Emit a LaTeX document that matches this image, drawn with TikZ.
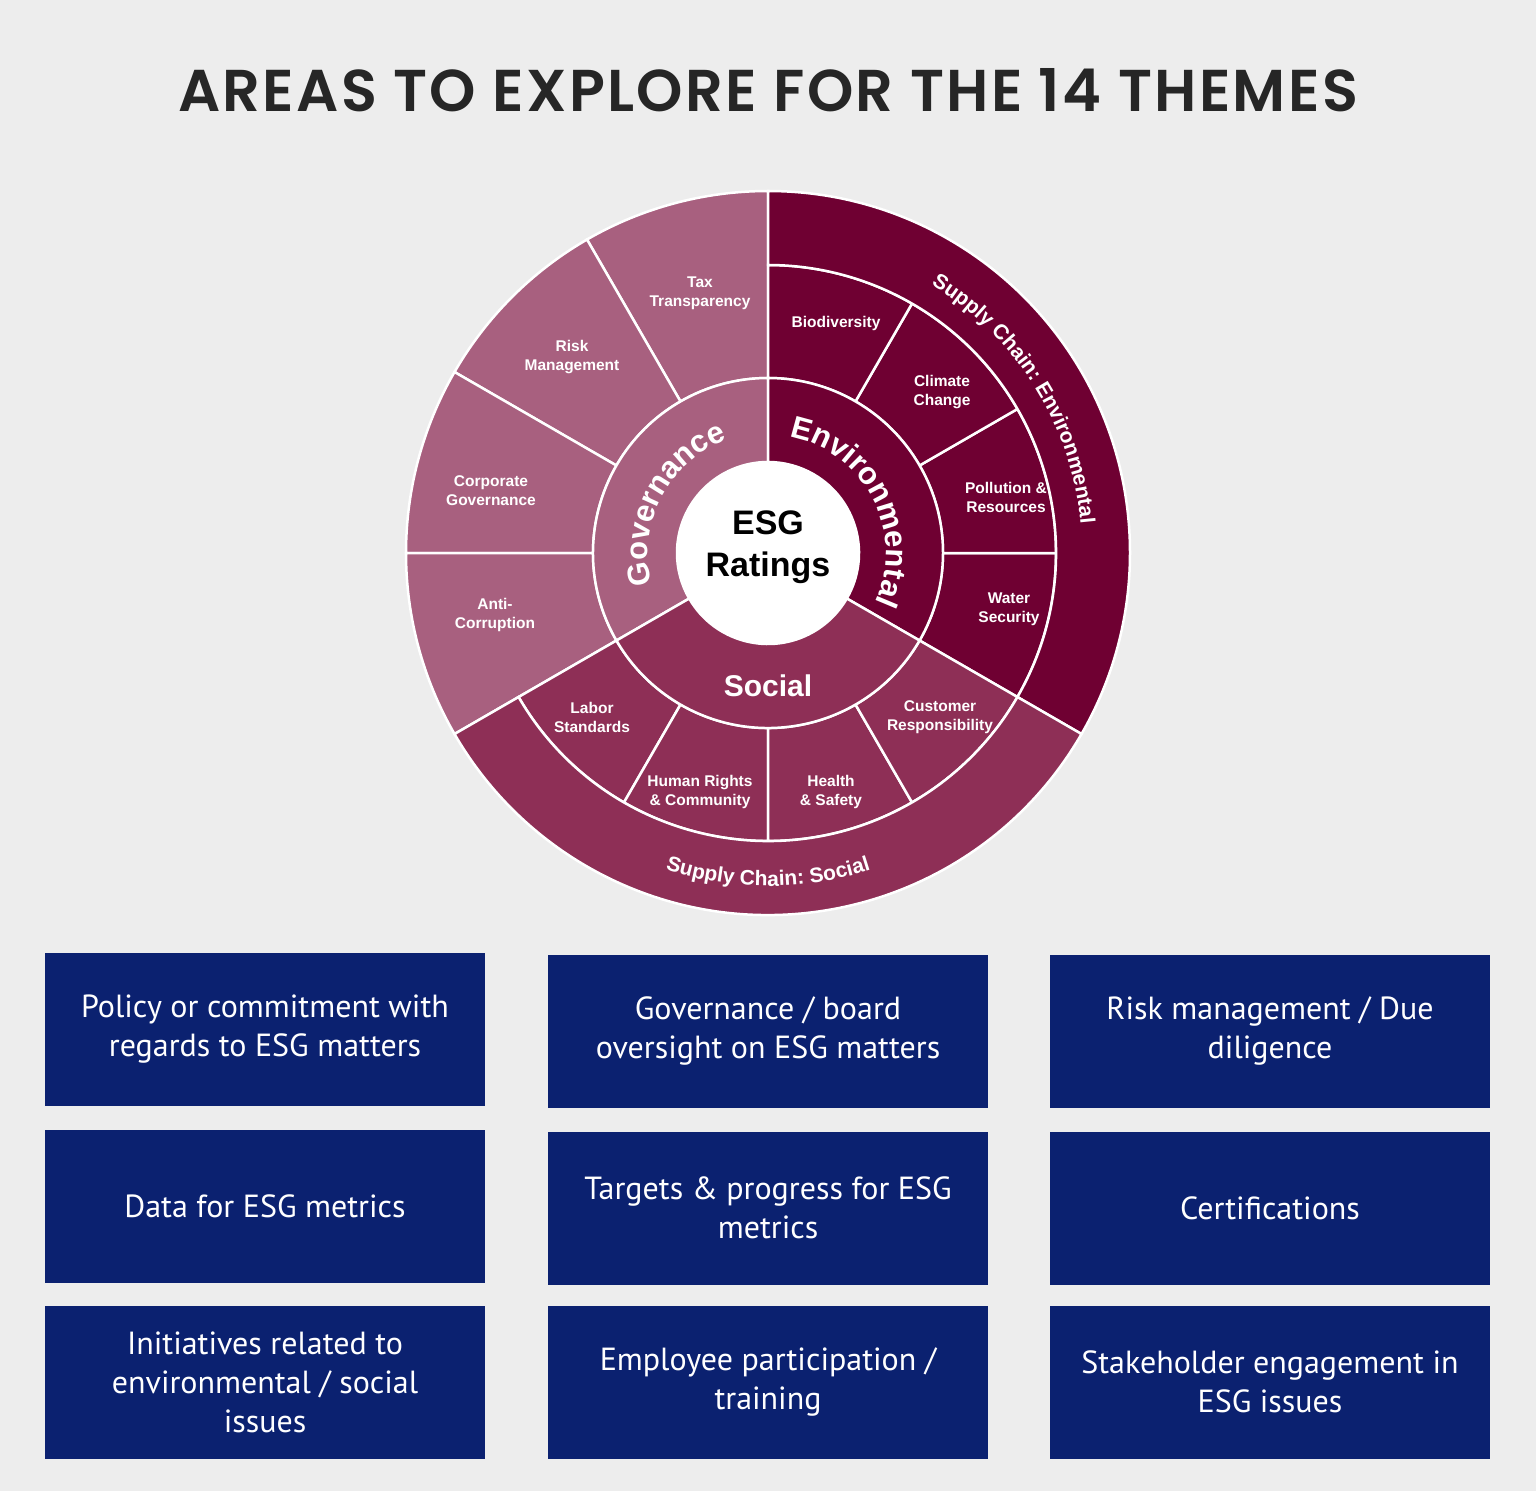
\documentclass[tikz,border=0pt]{standalone}
\usepackage{fontspec}
\setmainfont{Liberation Sans}
\newfontfamily\titlefont[LetterSpace=4]{Poppins SemiBold}
\newfontfamily\boxfont{PT Sans}
\usetikzlibrary{decorations.text}
\definecolor{bg}{HTML}{EDEDED}
\definecolor{gov}{HTML}{A8607F}
\definecolor{env}{HTML}{6F0032}
\definecolor{soc}{HTML}{8E2F56}
\definecolor{navy}{HTML}{0B2170}
\newcommand{\wdg}[5]{\fill[#5,draw=white,line width=2.5pt] (#3:#1) arc (#3:#4:#1) -- (#4:#2) arc (#4:#3:#2) -- cycle;}
\tikzset{
 theme/.style={text=white,font=\bfseries\fontsize{15.5}{19}\selectfont,align=center,inner sep=0},
 box/.style={fill=navy,text=white,minimum width=440pt,minimum height=153pt,inner sep=0,align=center,font=\boxfont\fontsize{32}{39}\selectfont},
}
\begin{document}
\begin{tikzpicture}[x=1pt,y=1pt]
\useasboundingbox (0,0) rectangle (1536,-1491);
\fill[bg] (0,0) rectangle (1536,-1491);
\node[font=\titlefont\fontsize{59}{64}\selectfont,text=black!85] (title) at (768,-90) {AREAS TO EXPLORE FOR THE 14 THEMES};
\begin{scope}[shift={(768,-553)}]
 \foreach \a in {90,120,150,180}{\wdg{175}{362}{\a}{\a+30}{gov}}
 \foreach \a in {-30,0,30,60}{\wdg{175}{288}{\a}{\a+30}{env}}
 \wdg{288}{362}{-30}{90}{env}
 \foreach \a in {-150,-120,-90,-60}{\wdg{175}{288}{\a}{\a+30}{soc}}
 \wdg{288}{362}{-150}{-30}{soc}
 \wdg{91}{175}{90}{210}{gov}
 \wdg{91}{175}{-30}{90}{env}
 \wdg{91}{175}{-150}{-30}{soc}
 \fill[white] (0,0) circle (91);
 \node[font=\bfseries\fontsize{34}{42}\selectfont,align=center] (esg) at (0,6) {ESG\\Ratings};
 \path[decorate,decoration={text along path,text align=center,text={|\bfseries\fontsize{31}{33}\selectfont\color{white}|Governance}}] (205:120) arc (205:100:120);
 \path[decorate,decoration={text along path,text align=center,text={|\bfseries\fontsize{31}{33}\selectfont\color{white}|Environmental}}] (85:118) arc (85:-30:118);
 \node[font=\bfseries\fontsize{30}{32}\selectfont,text=white] (social) at (0,-133) {Social};
 \path[decorate,decoration={text along path,text align=center,text={|\bfseries\fontsize{21}{23}\selectfont\color{white}|Supply Chain: Environmental}}] (68:314) arc (68:-4:314);
 \path[decorate,decoration={text along path,text align=center,text={|\bfseries\fontsize{21}{23}\selectfont\color{white}|Supply Chain: Social}}] (-114:333) arc (-114:-66:333);
\end{scope}
\node[theme] (t1) at (700,-293) {Tax\\Transparency};
\node[theme] (t2) at (572,-357) {Risk\\Management};
\node[theme] (t3) at (491,-491) {Corporate\\Governance};
\node[theme] (t4) at (495,-615) {Anti-\\Corruption};
\node[theme] (t5) at (836,-323) {Biodiversity};
\node[theme] (t6) at (942,-392) {Climate\\Change};
\node[theme] (t7) at (1006,-497) {Pollution \&\\Resources};
\node[theme] (t8) at (1009,-609) {Water\\Security};
\node[theme] (t9) at (940,-717) {Customer\\Responsibility};
\node[theme] (t10) at (831,-792) {Health\\\& Safety};
\node[theme] (t11) at (700,-792) {Human Rights\\\& Community};
\node[theme] (t12) at (592,-717) {Labor\\Standards};
\node[box] (b1) at (265,-1029) {Policy or commitment with\\regards to ESG matters};
\node[box] (b2) at (768,-1031) {Governance / board\\oversight on ESG matters};
\node[box] (b3) at (1270,-1031) {Risk management / Due\\diligence};
\node[box] (b4) at (265,-1206) {Data for ESG metrics};
\node[box] (b5) at (768,-1208) {Targets \& progress for ESG\\metrics};
\node[box] (b6) at (1270,-1208) {Certifications};
\node[box] (b7) at (265,-1382) {Initiatives related to\\environmental / social\\issues};
\node[box] (b8) at (768,-1382) {Employee participation /\\training};
\node[box] (b9) at (1270,-1382) {Stakeholder engagement in\\ESG issues};
\end{tikzpicture}
\end{document}
